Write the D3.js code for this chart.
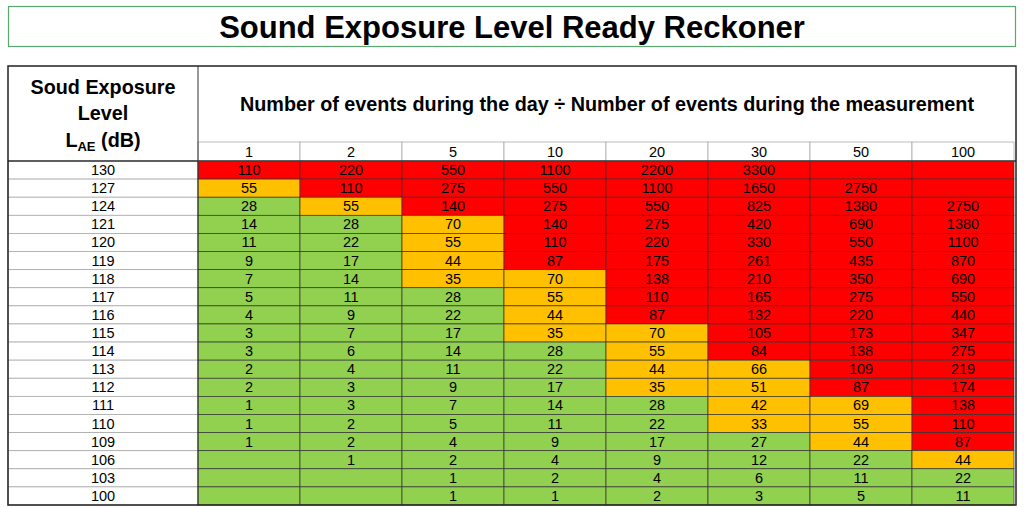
<!DOCTYPE html>
<html><head><meta charset="utf-8">
<script src="https://cdn.jsdelivr.net/npm/d3@7"></script>
<style>body{margin:0;background:#fff}svg{display:block;font-family:"Liberation Sans",Arial,sans-serif}</style>
</head><body><svg id="c" width="1024" height="508"></svg>
<script>
const levels=[130,127,124,121,120,119,118,117,116,115,114,113,112,111,110,109,106,103,100];
const ratios=[1,2,5,10,20,30,50,100];
const values=[
[110,220,550,1100,2200,3300,null,null],
[55,110,275,550,1100,1650,2750,null],
[28,55,140,275,550,825,1380,2750],
[14,28,70,140,275,420,690,1380],
[11,22,55,110,220,330,550,1100],
[9,17,44,87,175,261,435,870],
[7,14,35,70,138,210,350,690],
[5,11,28,55,110,165,275,550],
[4,9,22,44,87,132,220,440],
[3,7,17,35,70,105,173,347],
[3,6,14,28,55,84,138,275],
[2,4,11,22,44,66,109,219],
[2,3,9,17,35,51,87,174],
[1,3,7,14,28,42,69,138],
[1,2,5,11,22,33,55,110],
[1,2,4,9,17,27,44,87],
[null,1,2,4,9,12,22,44],
[null,null,1,2,4,6,11,22],
[null,null,1,1,2,3,5,11]];
const svg=d3.select("#c");
const X0=8,X1=1016,LW=190,HT=66,HH=142,HB=161,BOT=505;
const x=d3.scaleBand().domain(ratios).range([X0+LW,X1-2]);
const y=d3.scaleBand().domain(levels).range([HB,BOT]);
const col=(v,l)=>v==null?(l>=120?"#ff0000":"#92d050"):v>=80?"#ff0000":v>=30?"#ffc000":"#92d050";
const FS=14.5;
svg.append("rect").attr("x",X0+0.5).attr("y",6.5).attr("width",X1-X0-1).attr("height",40).attr("fill","#fff").attr("stroke","#5aa870").attr("stroke-width",1.2);
svg.append("text").attr("x",512).attr("y",38).attr("text-anchor","middle").attr("font-size",31).attr("font-weight","bold").text("Sound Exposure Level Ready Reckoner");
levels.forEach(l=>{
 svg.append("rect").attr("x",X0).attr("y",y(l)).attr("width",LW).attr("height",y.bandwidth()).attr("fill","#fff").attr("stroke","#aaa").attr("stroke-width",0.8);
 svg.append("text").attr("x",X0+LW/2).attr("y",y(l)+y.bandwidth()/2+5).attr("text-anchor","middle").attr("font-size",FS).text(l);
});
values.forEach((row,i)=>row.forEach((v,j)=>{
 const l=levels[i],r=ratios[j];
 svg.append("rect").attr("x",x(r)).attr("y",y(l)).attr("width",x.bandwidth()).attr("height",y.bandwidth()).attr("fill",col(v,l)).attr("stroke","#333").attr("stroke-width",0.7);
 if(v!=null)svg.append("text").attr("x",x(r)+x.bandwidth()/2).attr("y",y(l)+y.bandwidth()/2+5).attr("text-anchor","middle").attr("font-size",FS).text(v);
}));
ratios.forEach(r=>{
 svg.append("rect").attr("x",x(r)).attr("y",HH).attr("width",x.bandwidth()).attr("height",HB-HH).attr("fill","#fff").attr("stroke","#aaa").attr("stroke-width",0.8);
 svg.append("text").attr("x",x(r)+x.bandwidth()/2).attr("y",HH+15).attr("text-anchor","middle").attr("font-size",FS).text(r);
});
svg.append("text").attr("x",(X0+LW+X1)/2).attr("y",111).attr("text-anchor","middle").attr("font-size",19.8).attr("font-weight","bold").text("Number of events during the day ÷ Number of events during the measurement");
const lh=svg.append("text").attr("text-anchor","middle").attr("font-size",19.8).attr("font-weight","bold");
lh.append("tspan").attr("x",X0+LW/2).attr("y",94).text("Soud Exposure");
lh.append("tspan").attr("x",X0+LW/2).attr("y",120).text("Level");
const t3=svg.append("text").attr("x",X0+LW/2).attr("y",147).attr("text-anchor","middle").attr("font-size",19.8).attr("font-weight","bold");
t3.append("tspan").text("L");
t3.append("tspan").attr("font-size",13).attr("dy",4).text("AE");
t3.append("tspan").attr("dy",-4).text(" (dB)");
svg.append("line").attr("x1",X0+LW).attr("x2",X0+LW).attr("y1",HT).attr("y2",BOT).attr("stroke","#333").attr("stroke-width",1);
svg.append("line").attr("x1",X0).attr("x2",X1).attr("y1",HB).attr("y2",HB).attr("stroke","#333").attr("stroke-width",1.5);
svg.append("rect").attr("x",X0).attr("y",HT).attr("width",X1-X0).attr("height",BOT-HT).attr("fill","none").attr("stroke","#222").attr("stroke-width",1.5);
</script></body></html>
